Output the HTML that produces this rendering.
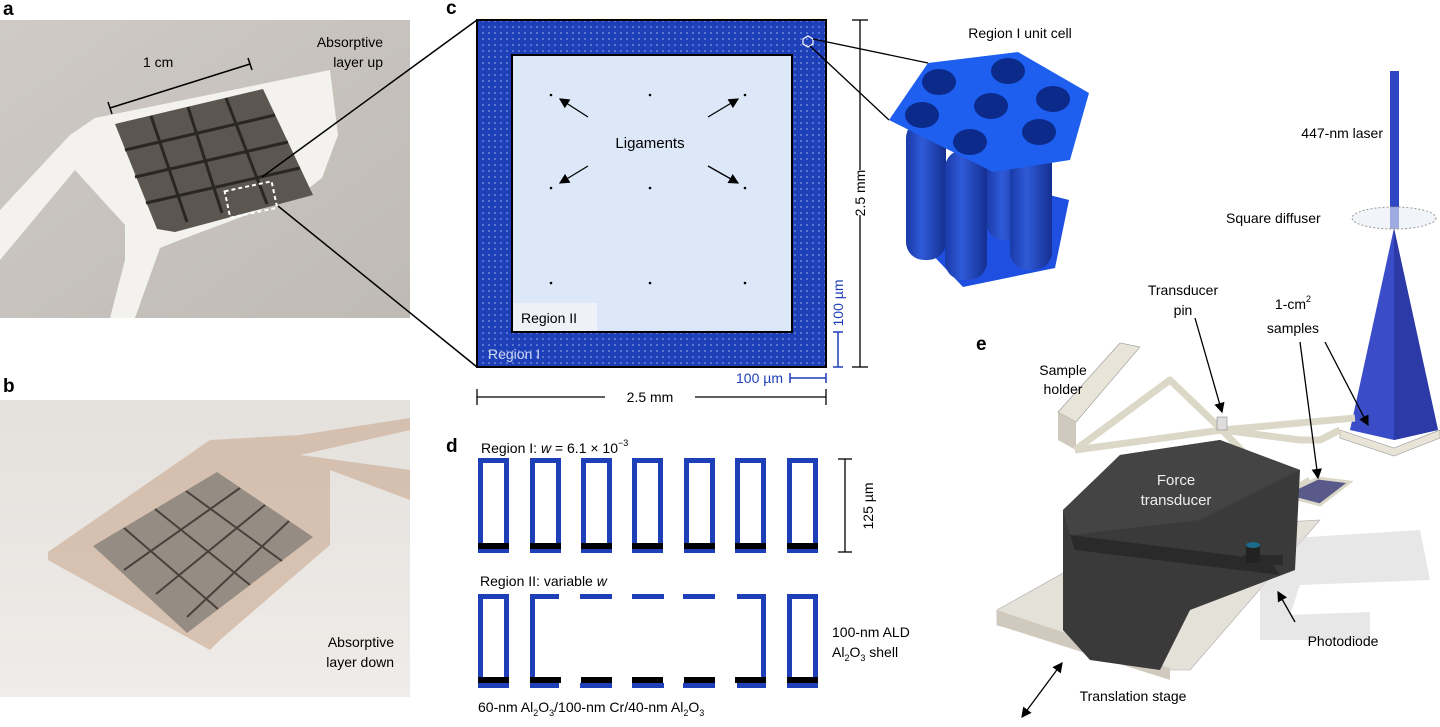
<!DOCTYPE html>
<html><head><meta charset="utf-8"><style>
html,body{margin:0;padding:0;background:#fff;}
svg{display:block;font-family:"Liberation Sans",Arial,sans-serif;}
</style></head><body>
<svg width="1440" height="727" viewBox="0 0 1440 727" xmlns="http://www.w3.org/2000/svg">
<defs>
<pattern id="dots" width="6" height="6" patternUnits="userSpaceOnUse">
<rect width="6" height="6" fill="#1d3fb8"/><circle cx="3" cy="3" r="0.8" fill="#9fb5ee"/>
</pattern>
<linearGradient id="pa" x1="0" y1="0" x2="1" y2="1"><stop offset="0" stop-color="#cfcac6"/><stop offset="1" stop-color="#bfbab4"/></linearGradient>
<linearGradient id="pb" x1="0" y1="0" x2="0" y2="1"><stop offset="0" stop-color="#e4e0dc"/><stop offset="1" stop-color="#efece9"/></linearGradient>
<linearGradient id="cyl" x1="0" y1="0" x2="1" y2="0"><stop offset="0" stop-color="#1a3aa8"/><stop offset="0.4" stop-color="#2f5ad8"/><stop offset="1" stop-color="#142f90"/></linearGradient>
<marker id="ah" markerWidth="8" markerHeight="8" refX="7" refY="4" orient="auto"><path d="M0,0 L8,4 L0,8 z" fill="#000"/></marker>
<marker id="ah2" markerWidth="8" markerHeight="8" refX="1" refY="4" orient="auto"><path d="M8,0 L0,4 L8,8 z" fill="#000"/></marker>
</defs>

<g font-weight="bold" font-size="19">
<text x="3" y="15">a</text><text x="3" y="392">b</text><text x="446" y="14">c</text><text x="446" y="452">d</text><text x="976" y="350">e</text>
</g>

<!-- photo a -->
<rect x="0" y="20" width="410" height="298" fill="url(#pa)"/>
<path d="M0,210 L70,135 L95,118 L330,70 L338,135 L322,178 L300,195 L180,240 L160,248 L135,318 L110,318 L125,260 L125,225 L75,170 L0,260 Z" fill="#f3f2ef"/>
<path d="M115,124 L263,89 L313,195 L175,232 L157,229 Z" fill="#5b5650"/>
<g stroke="#2a2622" stroke-width="3">
<line x1="151" y1="116" x2="187" y2="222"/><line x1="188" y1="107" x2="222" y2="213"/><line x1="226" y1="98" x2="267" y2="204"/>
<line x1="125" y1="150" x2="275" y2="115"/><line x1="135" y1="177" x2="288" y2="142"/><line x1="146" y1="203" x2="300" y2="168"/>
</g>
<rect x="227" y="186" width="48" height="27" fill="none" stroke="#fff" stroke-width="2" stroke-dasharray="4,3" transform="rotate(-12 251 200)"/>
<line x1="110" y1="108" x2="250" y2="64" stroke="#000" stroke-width="1.5"/>
<line x1="108" y1="102" x2="112" y2="114" stroke="#000" stroke-width="1.5"/><line x1="248" y1="58" x2="252" y2="70" stroke="#000" stroke-width="1.5"/>
<text x="143" y="67" font-size="14">1 cm</text>
<text x="383" y="47" font-size="14" text-anchor="end">Absorptive</text>
<text x="383" y="67" font-size="14" text-anchor="end">layer up</text>
<line x1="262" y1="177" x2="477" y2="20" stroke="#000" stroke-width="1.5"/>
<line x1="278" y1="206" x2="477" y2="367" stroke="#000" stroke-width="1.5"/>

<!-- photo b -->
<rect x="0" y="400" width="410" height="297" fill="url(#pb)"/>
<path d="M48,552 L210,440 L300,435 L410,418 L410,430 L300,455 L410,470 L410,500 L330,470 L330,545 L220,640 L210,650 L48,560 Z" fill="#c9a98f" opacity="0.6"/>
<path d="M93,546 L217,472 L313,537 L187,633 Z" fill="#958c84"/>
<g stroke="#4a403a" stroke-width="2">
<line x1="124" y1="528" x2="218" y2="609"/><line x1="155" y1="509" x2="250" y2="585"/><line x1="186" y1="491" x2="282" y2="561"/>
<line x1="124" y1="570" x2="240" y2="488"/><line x1="156" y1="594" x2="265" y2="505"/><line x1="187" y1="617" x2="289" y2="521"/>
</g>
<text x="394" y="647" font-size="14" text-anchor="end">Absorptive</text>
<text x="394" y="667" font-size="14" text-anchor="end">layer down</text>

<!-- panel c -->
<rect x="477" y="20" width="349" height="347" fill="url(#dots)" stroke="#000" stroke-width="2"/>
<rect x="512" y="55" width="280" height="277" fill="#dce7f8" stroke="#000" stroke-width="2"/>
<rect x="513" y="303" width="84" height="28" fill="#eef2f8"/>
<text x="521" y="323" font-size="14">Region II</text>
<text x="488" y="359" font-size="14" fill="#cfd8f2">Region I</text>
<g fill="#000">
<circle cx="551" cy="95" r="1.3"/><circle cx="650" cy="95" r="1.3"/><circle cx="745" cy="95" r="1.3"/>
<circle cx="551" cy="188" r="1.3"/><circle cx="650" cy="188" r="1.3"/><circle cx="745" cy="188" r="1.3"/>
<circle cx="551" cy="283" r="1.3"/><circle cx="650" cy="283" r="1.3"/><circle cx="745" cy="283" r="1.3"/>
</g>
<text x="650" y="148" font-size="15" text-anchor="middle">Ligaments</text>
<g stroke="#000" stroke-width="1.3" marker-end="url(#ah)">
<line x1="588" y1="117" x2="560" y2="99"/><line x1="708" y1="117" x2="738" y2="99"/>
<line x1="588" y1="166" x2="560" y2="183"/><line x1="708" y1="166" x2="738" y2="183"/>
</g>
<polygon points="803,39 808,36 813,39 813,44 808,47 803,44" fill="none" stroke="#fff" stroke-width="1.2"/>
<line x1="813" y1="39" x2="928" y2="63" stroke="#000" stroke-width="1.3"/>
<line x1="810" y1="46" x2="889" y2="120" stroke="#000" stroke-width="1.3"/>
<g stroke="#000" stroke-width="1.3">
<line x1="860" y1="20" x2="860" y2="170"/><line x1="860" y1="215" x2="860" y2="367"/>
<line x1="852" y1="20" x2="868" y2="20"/><line x1="852" y1="367" x2="868" y2="367"/>
<line x1="477" y1="397" x2="605" y2="397"/><line x1="695" y1="397" x2="826" y2="397"/>
<line x1="477" y1="389" x2="477" y2="405"/><line x1="826" y1="389" x2="826" y2="405"/>
</g>
<text x="0" y="0" font-size="14" text-anchor="middle" transform="translate(865,193) rotate(-90)">2.5 mm</text>
<text x="650" y="402" font-size="14" text-anchor="middle">2.5 mm</text>
<g stroke="#1d3fb8" stroke-width="1.5">
<line x1="790" y1="378" x2="826" y2="378"/><line x1="790" y1="373" x2="790" y2="383"/><line x1="826" y1="373" x2="826" y2="383"/>
<line x1="838" y1="332" x2="838" y2="367"/><line x1="833" y1="332" x2="843" y2="332"/><line x1="833" y1="367" x2="843" y2="367"/>
</g>
<text x="783" y="383" font-size="14" fill="#1d3fb8" text-anchor="end">100 µm</text>
<text x="0" y="0" font-size="14" fill="#1d3fb8" text-anchor="middle" transform="translate(843,303) rotate(-90)">100 µm</text>

<!-- unit cell -->
<text x="1020" y="38" font-size="14" text-anchor="middle">Region I unit cell</text>
<polygon points="909,230 963,287 1055,268 1069,200 1010,185 920,200" fill="#1f4fe0"/>
<g fill="url(#cyl)">
<rect x="986" y="110" width="40" height="130" rx="18"/>
<rect x="906" y="120" width="40" height="140" rx="18"/>
<rect x="1010" y="140" width="42" height="130" rx="18"/>
<rect x="945" y="150" width="42" height="130" rx="18"/>
</g>
<polygon points="928,63 1018,52 1089,93 1070,160 993,172 889,120" fill="#1e5ff0"/>
<g fill="#0b2a8a">
<ellipse cx="939" cy="82" rx="17" ry="13"/><ellipse cx="1008" cy="71" rx="17" ry="13"/>
<ellipse cx="991" cy="106" rx="17" ry="13"/><ellipse cx="1053" cy="99" rx="17" ry="13"/>
<ellipse cx="922" cy="115" rx="17" ry="13"/><ellipse cx="970" cy="142" rx="17" ry="13"/>
<ellipse cx="1039" cy="132" rx="17" ry="13"/>
</g>

<!-- laser -->
<text x="1383" y="138" font-size="14" text-anchor="end">447-nm laser</text>
<rect x="1390" y="71" width="9" height="158" fill="#3047c4"/>
<polygon points="1394,228 1350,430 1394,440 1438,430" fill="#3a4cc8"/>
<polygon points="1394,228 1394,440 1438,430" fill="#2c3aa8"/>
<ellipse cx="1394" cy="218" rx="42" ry="11" fill="#e8ecf4" fill-opacity="0.6" stroke="#999" stroke-dasharray="2,2"/>
<text x="1226" y="223" font-size="14">Square diffuser</text>
<polygon points="1340,430 1394,448 1440,430 1440,438 1394,456 1340,438" fill="#e8e4d8" stroke="#999" stroke-width="0.6"/>

<!-- panel e -->
<text x="1183" y="295" font-size="14" text-anchor="middle">Transducer</text>
<text x="1183" y="315" font-size="14" text-anchor="middle">pin</text>
<text x="1293" y="309" font-size="14" text-anchor="middle">1-cm<tspan font-size="9" dy="-7">2</tspan></text>
<text x="1293" y="333" font-size="14" text-anchor="middle">samples</text>
<polygon points="997,610 1140,530 1320,520 1190,670 1170,670 997,625" fill="#e4e1d8" stroke="#aaa" stroke-width="0.6"/>
<polygon points="997,610 1170,668 1170,680 997,625" fill="#cfcabd"/>
<path d="M1260,540 L1420,530 L1430,580 L1300,585 L1290,615 L1370,612 L1370,640 L1260,640 Z" fill="#ddd" opacity="0.7"/>
<polygon points="1058,412 1120,343 1140,347 1076,422" fill="#e8e4d8" stroke="#999" stroke-width="0.6"/>
<polygon points="1058,412 1076,422 1076,450 1058,440" fill="#cfcabd"/>
<g stroke="#dcd8c8" stroke-width="7" fill="none" stroke-linejoin="round">
<polyline points="1075,450 1170,380 1222,430 1285,495 1310,480"/>
<polyline points="1075,450 1222,430 1355,418"/>
<polyline points="1222,430 1300,440 1320,440 1340,430"/>
</g>
<text x="1063" y="375" font-size="14" text-anchor="middle">Sample</text>
<text x="1063" y="394" font-size="14" text-anchor="middle">holder</text>
<polygon points="1282,495 1318,478 1350,482 1320,505" fill="#5a5a8a" stroke="#dcd8c8" stroke-width="3"/>
<polygon points="1063,510 1120,455 1220,440 1300,470 1295,570 1190,610 1160,670 1090,660 1063,630" fill="#3a3a3a"/>
<polygon points="1063,510 1120,455 1220,440 1300,470 1200,520 1070,535" fill="#444"/>
<polygon points="1070,535 1270,560 1280,575 1075,550" fill="#2a2a2a"/>
<rect x="1243" y="555" width="40" height="10" fill="#2a2a2a"/>
<rect x="1246" y="545" width="14" height="18" fill="#222"/><ellipse cx="1253" cy="545" rx="7" ry="3" fill="#1a6a8a"/>
<rect x="1217" y="417" width="10" height="13" fill="#ddd" stroke="#888" stroke-width="0.6"/>
<text x="1176" y="485" font-size="15" fill="#eee" text-anchor="middle">Force</text>
<text x="1176" y="505" font-size="15" fill="#eee" text-anchor="middle">transducer</text>
<g stroke="#000" stroke-width="1.3" marker-end="url(#ah)">
<line x1="1195" y1="318" x2="1222" y2="412"/>
<line x1="1300" y1="342" x2="1318" y2="478"/>
<line x1="1325" y1="342" x2="1368" y2="425"/>
<line x1="1295" y1="622" x2="1278" y2="592"/>
</g>
<text x="1343" y="646" font-size="14" text-anchor="middle">Photodiode</text>
<line x1="1022" y1="717" x2="1062" y2="663" stroke="#000" stroke-width="1.3" marker-start="url(#ah2)" marker-end="url(#ah)"/>
<text x="1133" y="701" font-size="14" text-anchor="middle">Translation stage</text>

<!-- panel d -->
<text x="481" y="453" font-size="14">Region I: <tspan font-style="italic">w</tspan> = 6.1 × 10<tspan font-size="9" dy="-7">−3</tspan></text>
<g fill="none" stroke="#1d3fb8" stroke-width="5">
<rect x="480.5" y="460.5" width="26" height="90"/><rect x="532.5" y="460.5" width="26" height="90"/>
<rect x="583.5" y="460.5" width="26" height="90"/><rect x="634.5" y="460.5" width="26" height="90"/>
<rect x="686.5" y="460.5" width="26" height="90"/><rect x="737.5" y="460.5" width="26" height="90"/>
<rect x="789.5" y="460.5" width="26" height="90"/>
<rect x="480.5" y="596.5" width="26" height="89"/><rect x="789.5" y="596.5" width="26" height="89"/>
<polyline points="559,596.5 532.5,596.5 532.5,685.5 559,685.5"/>
<polyline points="737,596.5 763.5,596.5 763.5,685.5 737,685.5"/>
</g>
<g fill="#1d3fb8">
<rect x="580" y="594" width="32" height="5"/><rect x="632" y="594" width="32" height="5"/><rect x="683" y="594" width="32" height="5"/>
<rect x="580" y="683" width="32" height="5"/><rect x="632" y="683" width="32" height="5"/><rect x="683" y="683" width="32" height="5"/>
</g>
<g fill="#000">
<rect x="478" y="543" width="31" height="6"/><rect x="530" y="543" width="31" height="6"/><rect x="581" y="543" width="31" height="6"/>
<rect x="632" y="543" width="31" height="6"/><rect x="684" y="543" width="31" height="6"/><rect x="735" y="543" width="31" height="6"/>
<rect x="787" y="543" width="31" height="6"/>
<rect x="478" y="677" width="31" height="6"/><rect x="530" y="677" width="31" height="6"/><rect x="581" y="677" width="31" height="6"/>
<rect x="632" y="677" width="31" height="6"/><rect x="684" y="677" width="31" height="6"/><rect x="735" y="677" width="31" height="6"/>
<rect x="787" y="677" width="31" height="6"/>
</g>
<g stroke="#000" stroke-width="1.3">
<line x1="845" y1="459" x2="845" y2="552"/><line x1="838" y1="459" x2="852" y2="459"/><line x1="838" y1="552" x2="852" y2="552"/>
</g>
<text x="0" y="0" font-size="14" text-anchor="middle" transform="translate(873,506) rotate(-90)">125 µm</text>
<text x="480" y="586" font-size="14">Region II: variable <tspan font-style="italic">w</tspan></text>
<text x="832" y="637" font-size="14">100-nm ALD</text>
<text x="832" y="657" font-size="14">Al<tspan font-size="9" dy="4">2</tspan><tspan dy="-4">O</tspan><tspan font-size="9" dy="4">3</tspan><tspan dy="-4"> shell</tspan></text>
<text x="478" y="712" font-size="14">60-nm Al<tspan font-size="9" dy="4">2</tspan><tspan dy="-4">O</tspan><tspan font-size="9" dy="4">3</tspan><tspan dy="-4">/100-nm Cr/40-nm Al</tspan><tspan font-size="9" dy="4">2</tspan><tspan dy="-4">O</tspan><tspan font-size="9" dy="4">3</tspan></text>
</svg>
</body></html>
